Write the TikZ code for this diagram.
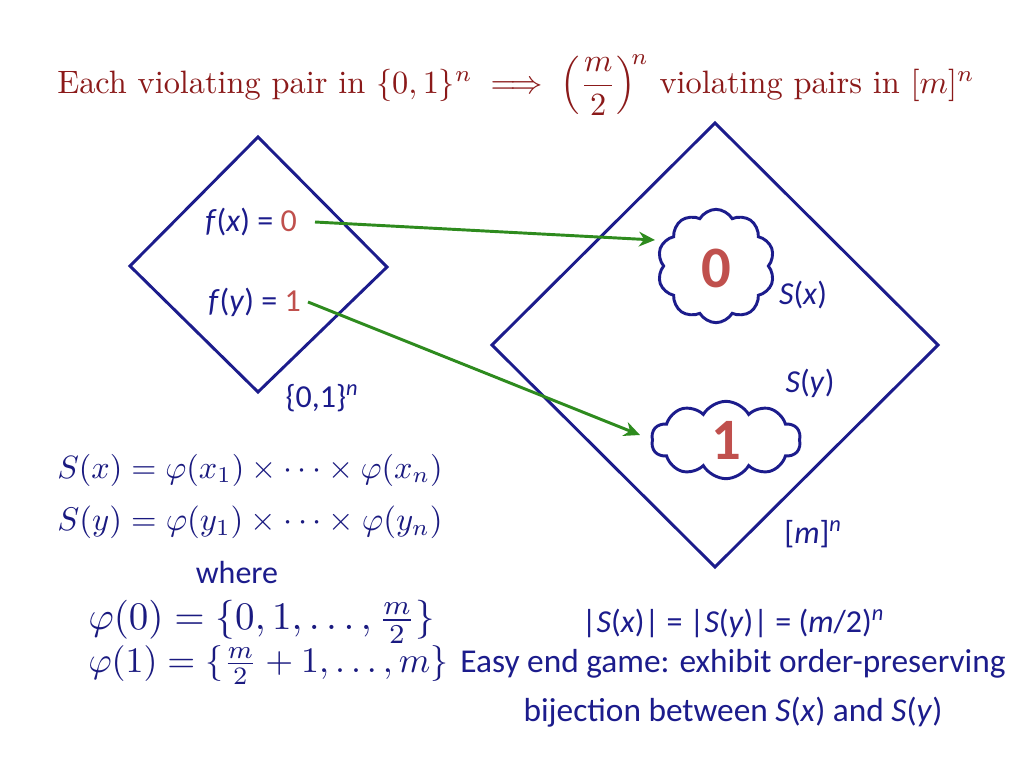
\documentclass[tikz,border=0pt]{standalone}
\usepackage{fontspec}
\usepackage{amsmath}
\newfontfamily\carl{Carlito}
\usetikzlibrary{shapes.symbols,arrows.meta}
\definecolor{tred}{HTML}{8B1A1A}
\definecolor{nblue}{HTML}{1C1C8C}
\definecolor{dblue}{HTML}{1A1A80}
\definecolor{vred}{HTML}{C0504D}
\definecolor{agreen}{HTML}{2E8B1E}
\tikzset{
 dia/.style={draw=nblue,line width=2.2pt,line join=miter},
 cl/.style={cloud,cloud puffs=10,cloud puff arc=120,draw=nblue,line width=2.2pt,aspect=1},
 lab/.style={font=\carl\fontsize{24}{28}\selectfont,text=nblue,inner sep=0pt},
 arr/.style={draw=agreen,line width=2.2pt,-{Stealth[length=12pt,width=11pt]}},
 mth/.style={text=dblue,inner sep=0pt}
}
\begin{document}
\begin{tikzpicture}[x=0.75pt,y=-0.75pt]
\useasboundingbox (0,0) rectangle (1024,768);
\fill[white] (0,0) rectangle (1024,768);
\node[text=tred,inner sep=0pt] (title) at (516,85) {\resizebox{688pt}{!}{Each violating pair in $\{0,1\}^n\implies\left(\dfrac{m}{2}\right)^{\!n}$ violating pairs in $[m]^n$}};
\draw[dia] (258,137) -- (387,267) -- (258,392) -- (130,266) -- cycle;
\draw[dia] (715,123) -- (938,345) -- (715,567) -- (492,345) -- cycle;
\node[cl,minimum width=88pt,minimum height=85pt] (c0) at (716,266) {};
\node[cl,minimum width=112pt,minimum height=58pt,aspect=2] (c1) at (726,440) {};
\node[font=\carl\bfseries\fontsize{44}{48}\selectfont,text=vred] at (716,268) {0};
\node[font=\carl\bfseries\fontsize{44}{48}\selectfont,text=vred] at (726,440) {1};
\node[lab,anchor=west] (fx) at (205,222) {\textit{f}(\textit{x}) = \textcolor{vred}{0}};
\node[lab,anchor=west] (fy) at (208,302) {\textit{f}(\textit{y}) = \textcolor{vred}{1}};
\coordinate (a0) at (315,222);
\coordinate (a1) at (308,302);
\coordinate (b0) at (655,240);
\coordinate (b1) at (640,435);
\draw[arr] (a0) -- (b0);
\draw[arr] (a1) -- (b1);
\node[lab] (zo) at (322,398) {\{0,1\}$^{\text{\itshape n}}$};
\node[lab] (sx) at (803,295) {\textit{S}(\textit{x})};
\node[lab] (sy) at (810,383) {\textit{S}(\textit{y})};
\node[lab] (mn) at (813,534) {[\textit{m}]$^{\text{\itshape n}}$};
\node[mth] (e1) at (250,470) {\resizebox{289pt}{!}{$S(x)=\varphi(x_1)\times\cdots\times\varphi(x_n)$}};
\node[mth] (e2) at (250,522) {\resizebox{289pt}{!}{$S(y)=\varphi(y_1)\times\cdots\times\varphi(y_n)$}};
\node[lab] (wh) at (237,572) {where};
\node[mth,anchor=west] (p0) at (88,622) {\resizebox{260pt}{!}{$\varphi(0)=\{0,1,\ldots,\frac{m}{2}\}$}};
\node[mth,anchor=west] (p1) at (88,665) {\resizebox{270pt}{!}{$\varphi(1)=\{\frac{m}{2}+1,\ldots,m\}$}};
\node[lab] (card) at (733,623) {|\textit{S}(\textit{x})| = |\textit{S}(\textit{y})| = (\textit{m}/2)$^{\text{\itshape n}}$};
\node[lab,align=center,font=\carl\fontsize{25}{37}\selectfont] (eg) at (733,688) {Easy end game: exhibit order-preserving\\bijection between \textit{S}(\textit{x}) and \textit{S}(\textit{y})};
\end{tikzpicture}
\end{document}
